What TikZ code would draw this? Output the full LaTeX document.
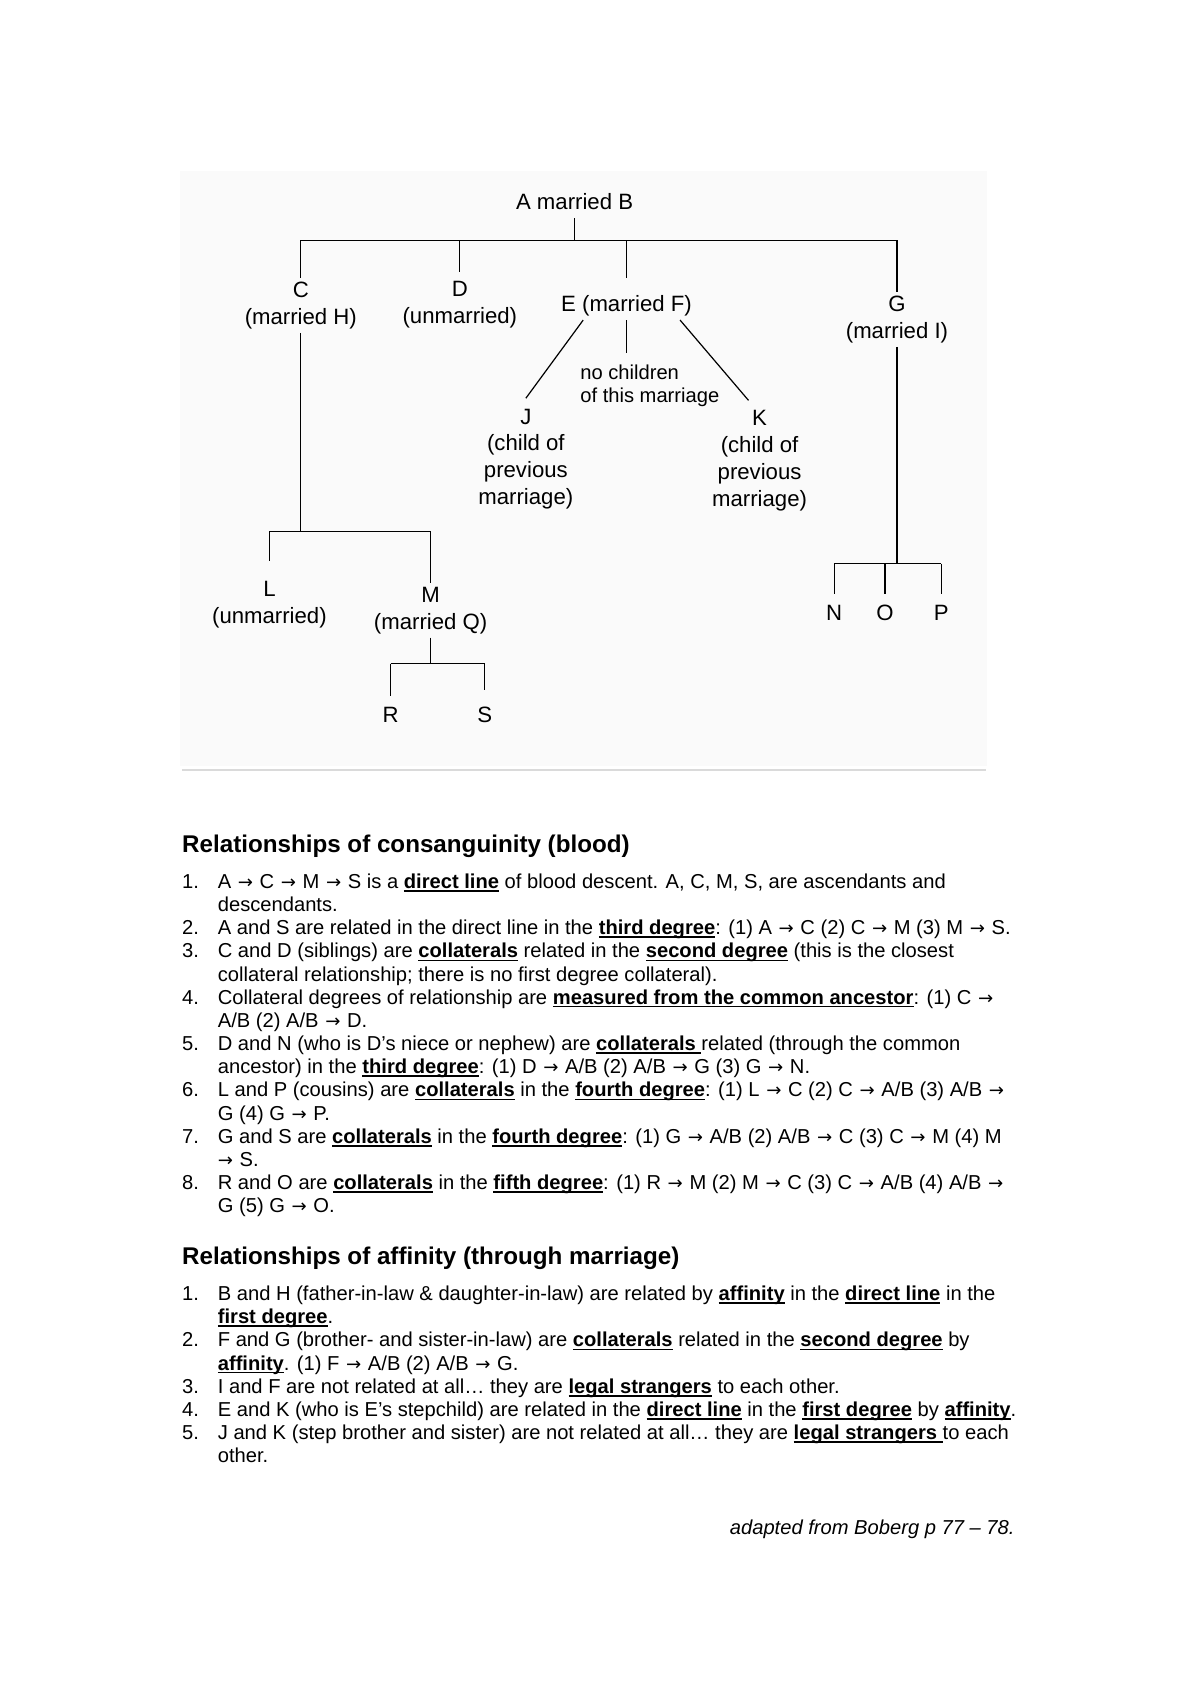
\documentclass[tikz,border=0pt]{standalone}
\usepackage{fontspec}
\usepackage{newunicodechar}
\setmainfont{Liberation Sans}
\newfontfamily\arrowfont{DejaVu Sans}
\newunicodechar{→}{{\kern0.5pt\arrowfont\fontsize{9}{9}\selectfont\symbol{"2192}\kern0.5pt}}

\definecolor{treeback}{RGB}{250,250,250}
\definecolor{rulegrey}{RGB}{218,218,218}

\newcommand{\famlabel}[1]{\begin{tabular}[t]{@{}c@{}}#1\end{tabular}}
\newcommand{\keyterm}[1]{\setbox0=\hbox{\bfseries #1}\rlap{\rule[-1.6pt]{\wd0}{0.75pt}}\box0\relax}
\newcommand{\relitem}[1]{\par\noindent\hangindent=17.7pt\hangafter=1\makebox[17.7pt][l]{#1}}

\tikzstyle{member} = [anchor=base, inner sep=0pt, font=\fontsize{11}{13.3}\selectfont]
\tikzstyle{line} = [draw, line width=0.6pt]
\tikzstyle{heading} = [anchor=base west, inner sep=0pt, font=\fontsize{12}{14}\selectfont\bfseries]
\tikzstyle{listtext} = [anchor=base west, inner sep=0pt]

\begin{document}
\begin{tikzpicture}[x=0.5368pt, y=-0.5368pt]
  \useasboundingbox (0,0) rectangle (1109,1569.3);
  \fill [treeback] (166,158) rectangle (912,708);

	%Nodes
	\node [member] (ab) at (531,194) {\famlabel{A married B}};
	\node [member] (c) at (278,275) {\famlabel{C\\(married H)}};
	\node [member] (d) at (425,274) {\famlabel{D\\(unmarried)}};
	\node [member] (e) at (579,288) {\famlabel{E (married F)}};
	\node [member] (g) at (829,288) {\famlabel{G\\(married I)}};
	\node [member, anchor=base west, font=\fontsize{10}{11.7}\selectfont] (nochild) at (536,350.6)
		{\begin{tabular}[t]{@{}l@{}}no children\\of this marriage\end{tabular}};
	\node [member] (j) at (486,392) {\famlabel{J\\(child of\\previous\\marriage)}};
	\node [member] (k) at (702,393.5) {\famlabel{K\\(child of\\previous\\marriage)}};
	\node [member] (l) at (249,551) {\famlabel{L\\(unmarried)}};
	\node [member] (m) at (398,556.7) {\famlabel{M\\(married Q)}};
	\node [member] (r) at (361,668) {\famlabel{R}};
	\node [member] (s) at (448,668) {\famlabel{S}};
	\node [member] (n) at (771,573.7) {\famlabel{N}};
	\node [member] (o) at (818,573.7) {\famlabel{O}};
	\node [member] (p) at (870,573.7) {\famlabel{P}};

	%Lines
	\coordinate (abfork) at (531,222);
	\coordinate (cfork) at (276,491);
	\coordinate (mfork) at (398,613.4);
	\coordinate (gfork) at (829,521);
	\path [line] (ab.south) -- (ab.south |- abfork);
	\path [line] (c |- abfork) -- (g |- abfork);
	\path [line] (c |- abfork) -- (c.north);
	\path [line, shorten >=2.8pt] (d |- abfork) -- (d.north);
	\path [line, shorten >=7.2pt] (e |- abfork) -- (e.north);
	\path [line] (g |- abfork) -- (g.north);
	\path [line] (e.south) ++(-40,0) -- ([yshift=3.35pt]j.north);
	\path [line, shorten >=4.5pt] (e.south) -- (e.south |- nochild.north);
	\path [line] (e.south) ++(49.5,0) -- ([xshift=-5.5pt,yshift=3.1pt]k.north);
	\path [line] (c.south) -- (c.south |- cfork);
	\path [line] (l |- cfork) -- (m |- cfork);
	\path [line, shorten >=7.75pt] (l |- cfork) -- (l.north);
	\path [line] (m |- cfork) -- (m.north);
	\path [line] (m.south) -- (m.south |- mfork);
	\path [line] (r |- mfork) -- (s |- mfork);
	\path [line, shorten >=3.85pt] (r |- mfork) -- (r.north);
	\path [line, shorten >=6.85pt] (s |- mfork) -- (s.north);
	\path [line] (g.south) -- (g.south |- gfork);
	\path [line] (n |- gfork) -- (p |- gfork);
	\foreach \kid in {n,o,p}
		\path [line, shorten >=3.8pt] (\kid |- gfork) -- (\kid.north);

	\draw [rulegrey, line width=1.2pt] (168,711.4) -- (911,711.4);

	%Text
	\node [heading] (bloodhead) at (168,788) {Relationships of consanguinity (blood)};
	\node [listtext] (bloodlist) at (168,821) {\parbox[t]{480pt}{\fontsize{10}{11.5}\selectfont
		\relitem{1.}A → C → M → S is a \keyterm{direct line} of blood descent. A, C, M, S, are ascendants and\\descendants.
		\relitem{2.}A and S are related in the direct line in the \keyterm{third degree}: (1) A → C (2) C → M (3) M → S.
		\relitem{3.}C and D (siblings) are \keyterm{collaterals} related in the \keyterm{second degree} (this is the closest\\collateral relationship; there is no first degree collateral).
		\relitem{4.}Collateral degrees of relationship are \keyterm{measured from the common ancestor}: (1) C →\\A/B (2) A/B → D.
		\relitem{5.}D and N (who is D's niece or nephew) are \keyterm{collaterals\ }related (through the common\\ancestor) in the \keyterm{third degree}: (1) D → A/B (2) A/B → G (3) G → N.
		\relitem{6.}L and P (cousins) are \keyterm{collaterals} in the \keyterm{fourth degree}: (1) L → C (2) C → A/B (3) A/B →\\G (4) G → P.
		\relitem{7.}G and S are \keyterm{collaterals} in the \keyterm{fourth degree}: (1) G → A/B (2) A/B → C (3) C → M (4) M\\→ S.
		\relitem{8.}R and O are \keyterm{collaterals} in the \keyterm{fifth degree}: (1) R → M (2) M → C (3) C → A/B (4) A/B →\\G (5) G → O.\par}};

	\node [heading] (affinityhead) at (168,1169) {Relationships of affinity (through marriage)};
	\node [listtext] (affinitylist) at (168,1202) {\parbox[t]{480pt}{\fontsize{10}{11.5}\selectfont
		\relitem{1.}B and H (father-in-law \& daughter-in-law) are related by \keyterm{affinity} in the \keyterm{direct line} in the\\\keyterm{first degree}.
		\relitem{2.}F and G (brother- and sister-in-law) are \keyterm{collaterals} related in the \keyterm{second degree} by\\\keyterm{affinity}. (1) F → A/B (2) A/B → G.
		\relitem{3.}I and F are not related at all… they are \keyterm{legal strangers} to each other.
		\relitem{4.}E and K (who is E's stepchild) are related in the \keyterm{direct line} in the \keyterm{first degree} by \keyterm{affinity}.
		\relitem{5.}J and K (step brother and sister) are not related at all… they are \keyterm{legal strangers\ }to each\\other.\par}};

	\node [anchor=base east, inner sep=0pt, font=\fontsize{10}{12}\selectfont\itshape] (source) at (938,1418) {adapted from Boberg p 77 – 78.};
\end{tikzpicture}
\end{document}
